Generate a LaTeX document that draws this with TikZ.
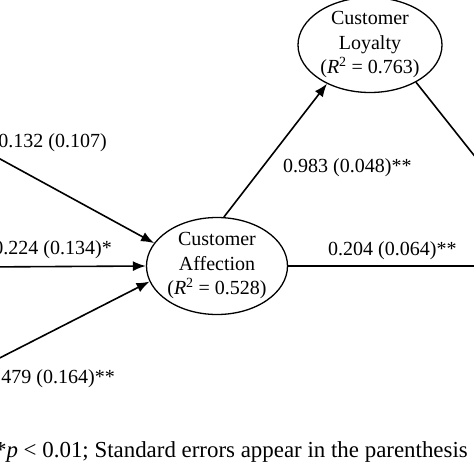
\documentclass[tikz,border=0pt]{standalone}
\usepackage{fontspec}
\setmainfont{Liberation Serif}
\usetikzlibrary{shapes.geometric,arrows.meta}
\tikzset{
  construct/.style={ellipse,draw,line width=1.3pt,inner sep=0pt,align=center,
    font=\fontsize{20}{24.5}\selectfont},
  path/.style={line width=1.6pt},
  arr/.style={path,-{Latex[length=13pt,width=10pt]}},
  coef/.style={font=\fontsize{20}{24}\selectfont,inner sep=0pt},
  note/.style={font=\fontsize{22.9}{26}\selectfont,inner sep=0pt},
}
\newcommand{\rsq}[1]{(\textit{R}\textsuperscript{2} = #1)}
\begin{document}
\begin{tikzpicture}[x=1pt,y=-1pt]
\useasboundingbox (0,0) rectangle (474,474);
\clip (0,0) rectangle (474,474);
\fill[white] (0,0) rectangle (474,474);
\node[construct,minimum width=141pt,minimum height=97pt] (aff) at (217,266)
  {Customer\\Affection\\\rsq{0.528}};
\node[construct,minimum width=144pt,minimum height=95pt] (loy) at (370,45)
  {Customer\\Loyalty\\\rsq{0.763}};
\coordinate (s1) at (-20,148);
\coordinate (s2) at (-20,267);
\coordinate (s3) at (-20,368);
\coordinate (e1) at (500,188);
\coordinate (e2) at (500,266);
\draw[arr] (s1) -- (aff.160);
\draw[arr] (s2) -- (aff.west);
\draw[arr] (s3) -- (aff.193);
\draw[arr] (aff.82) -- (loy.222);
\draw[path] (loy.321) -- (e1);
\draw[path] (aff.east) -- (e2);
\node[coef,anchor=base east] (l1) at (107,147) {0.132 (0.107)};
\node[coef,anchor=base east] (l2) at (112,254) {0.224 (0.134)*};
\node[coef,anchor=base east] (l3) at (115,383) {0.479 (0.164)**};
\node[coef,anchor=base west] (l4) at (283,172) {0.983 (0.048)**};
\node[coef,anchor=base west] (l5) at (328,255) {0.204 (0.064)**};
\node[note,anchor=base east] (fn) at (468,457) {**\textit{p} < 0.01; Standard errors appear in the parenthesis};
\end{tikzpicture}
\end{document}
